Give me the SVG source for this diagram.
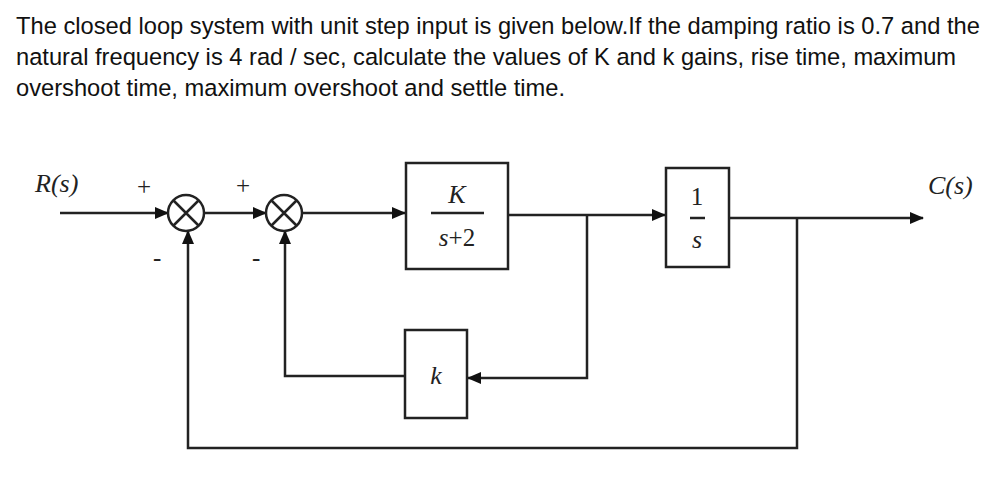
<svg xmlns="http://www.w3.org/2000/svg" width="1006" height="499" viewBox="0 0 1006 499">
<style>
.t{font-family:"Liberation Sans",Arial,sans-serif;font-size:23.7px;fill:#111}
.m{font-family:"Liberation Serif","Times New Roman",serif;font-style:italic;font-size:26px;fill:#222}
.n{font-family:"Liberation Serif","Times New Roman",serif;font-size:25px;fill:#222}
.w{fill:none;stroke:#222;stroke-width:2.5}
.b{fill:#fff;stroke:#222;stroke-width:2.5}
</style>
<defs><marker id="a" markerWidth="14" markerHeight="12" refX="13" refY="6" orient="auto" markerUnits="userSpaceOnUse"><path d="M0,0L14,6L0,12z" fill="#111"/></marker></defs>
<rect width="1006" height="499" fill="#fff"/>
<text class="t" x="16" y="34">The closed loop system with unit step input is given below.If the damping ratio is 0.7 and the</text>
<text class="t" x="16" y="65">natural frequency is 4 rad / sec, calculate the values of K and k gains, rise time, maximum</text>
<text class="t" x="16" y="96">overshoot time, maximum overshoot and settle time.</text>
<g id="connectors">
<path class="w" d="M60,213H168" marker-end="url(#a)"/>
<path class="w" d="M204,213H266" marker-end="url(#a)"/>
<path class="w" d="M302,213H405" marker-end="url(#a)"/>
<path class="w" d="M508,215H665" marker-end="url(#a)"/>
<path class="w" d="M729,218H923" marker-end="url(#a)"/>
<path class="w" d="M587,215V378H468" marker-end="url(#a)"/>
<path class="w" d="M405,376H285V231" marker-end="url(#a)"/>
<path class="w" d="M797,218V448H188V231" marker-end="url(#a)"/>
</g>
<g id="sum1"><circle class="b" cx="186" cy="213" r="18"/><path class="w" d="M173,200L199,226M199,200L173,226"/></g>
<g id="sum2"><circle class="b" cx="284" cy="213" r="18"/><path class="w" d="M271,200L297,226M297,200L271,226"/></g>
<g id="labels">
<text class="m" x="35" y="192">R(s)</text>
<text class="m" x="928" y="194">C(s)</text>
<text class="n" x="137" y="195">+</text>
<text class="n" x="236" y="194">+</text>
<text class="n" x="153" y="266">-</text>
<text class="n" x="252" y="266">-</text>
</g>
<g id="G1"><rect class="b" x="406" y="163" width="102" height="106"/><text class="m" x="457" y="203" text-anchor="middle">K</text><path class="w" d="M431,213H484"/><text class="n" x="457" y="246" text-anchor="middle"><tspan font-style="italic">s</tspan>+2</text></g>
<g id="G2"><rect class="b" x="666" y="168" width="63" height="99"/><text class="n" x="697" y="205" text-anchor="middle">1</text><path class="w" d="M690,218H705"/><text class="m" x="697" y="248" text-anchor="middle">s</text></g>
<g id="K2"><rect class="b" x="405" y="330" width="62" height="88"/><text class="m" x="436" y="384" text-anchor="middle">k</text></g>
</svg>
